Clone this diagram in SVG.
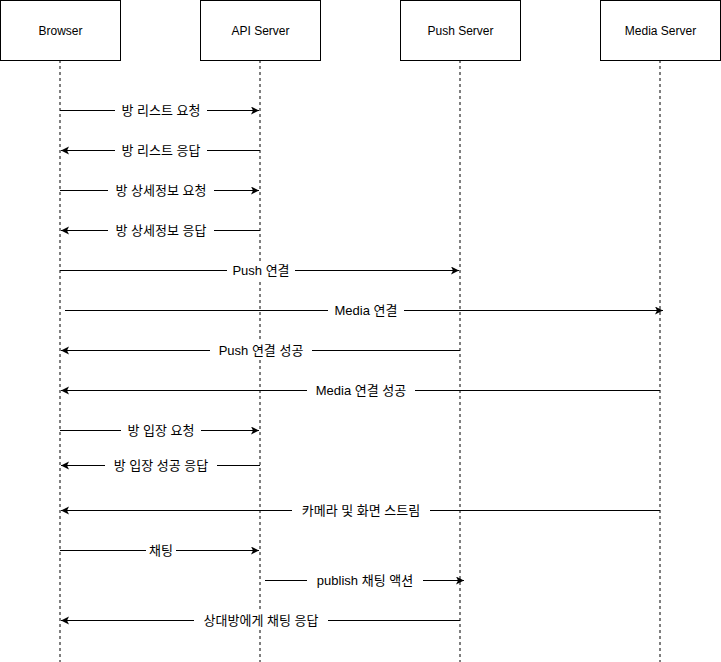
<svg xmlns="http://www.w3.org/2000/svg" width="721" height="662" viewBox="0 0 721 662">
<style>
.box{fill:#fff;stroke:#000;stroke-width:1}
.life{stroke:#000;stroke-width:1;stroke-dasharray:3,3}
.msg{stroke:#000;stroke-width:1;fill:none}
.t{font-family:"Liberation Sans","Noto Sans CJK KR",sans-serif;font-size:12px;text-anchor:middle;fill:#000}
.l{font-family:"Liberation Sans","Noto Sans CJK KR",sans-serif;font-size:13px;text-anchor:middle;fill:#000}
.bg{fill:#fff}
</style>
<defs><marker id="a" markerWidth="10" markerHeight="10" refX="8" refY="4" orient="auto" markerUnits="userSpaceOnUse"><path d="M0,0 L8,4 L0,8 L2,4 Z" fill="#000"/></marker></defs>
<g id="lifelines">
<line class="life" x1="60" y1="60" x2="60" y2="662"/>
<line class="life" x1="260" y1="60" x2="260" y2="662"/>
<line class="life" x1="460" y1="60" x2="460" y2="662"/>
<line class="life" x1="660" y1="60" x2="660" y2="662"/>
</g>
<g id="browser"><rect class="box" x="0.5" y="0.5" width="120" height="60"/><text class="t" x="60.5" y="35">Browser</text></g>
<g id="api"><rect class="box" x="200.5" y="0.5" width="120" height="60"/><text class="t" x="260.5" y="35">API Server</text></g>
<g id="push"><rect class="box" x="400.5" y="0.5" width="120" height="60"/><text class="t" x="460.5" y="35">Push Server</text></g>
<g id="media"><rect class="box" x="600.5" y="0.5" width="120" height="60"/><text class="t" x="660.5" y="35">Media Server</text></g>
<g id="connectors">
<line class="msg" x1="60" y1="110.5" x2="259" y2="110.5" marker-end="url(#a)"/>
<line class="msg" x1="260" y1="150.5" x2="61" y2="150.5" marker-end="url(#a)"/>
<line class="msg" x1="60" y1="190.5" x2="259" y2="190.5" marker-end="url(#a)"/>
<line class="msg" x1="260" y1="230.5" x2="61" y2="230.5" marker-end="url(#a)"/>
<line class="msg" x1="60" y1="270.5" x2="459" y2="270.5" marker-end="url(#a)"/>
<line class="msg" x1="65" y1="310.5" x2="663" y2="310.5" marker-end="url(#a)"/>
<line class="msg" x1="460" y1="350.5" x2="61" y2="350.5" marker-end="url(#a)"/>
<line class="msg" x1="660" y1="390.5" x2="61" y2="390.5" marker-end="url(#a)"/>
<line class="msg" x1="60" y1="430.5" x2="259" y2="430.5" marker-end="url(#a)"/>
<line class="msg" x1="260" y1="465.5" x2="61" y2="465.5" marker-end="url(#a)"/>
<line class="msg" x1="660" y1="510.5" x2="61" y2="510.5" marker-end="url(#a)"/>
<line class="msg" x1="60" y1="550.5" x2="259" y2="550.5" marker-end="url(#a)"/>
<line class="msg" x1="265" y1="580.5" x2="464" y2="580.5" marker-end="url(#a)"/>
<line class="msg" x1="460" y1="620.5" x2="61" y2="620.5" marker-end="url(#a)"/>
</g>
<g id="labels">
<rect class="bg" x="115" y="102" width="92" height="17"/><text class="l" x="161" y="115">방 리스트 요청</text>
<rect class="bg" x="115" y="142" width="92" height="17"/><text class="l" x="161" y="155">방 리스트 응답</text>
<rect class="bg" x="108" y="182" width="106" height="17"/><text class="l" x="161" y="195">방 상세정보 요청</text>
<rect class="bg" x="108" y="222" width="106" height="17"/><text class="l" x="161" y="235">방 상세정보 응답</text>
<rect class="bg" x="227" y="262" width="68" height="17"/><text class="l" x="261" y="275">Push 연결</text>
<rect class="bg" x="328" y="302" width="76" height="17"/><text class="l" x="366" y="315">Media 연결</text>
<rect class="bg" x="210" y="342" width="102" height="17"/><text class="l" x="261" y="355">Push 연결 성공</text>
<rect class="bg" x="307" y="382" width="108" height="17"/><text class="l" x="361" y="395">Media 연결 성공</text>
<rect class="bg" x="121" y="422" width="80" height="17"/><text class="l" x="161" y="435">방 입장 요청</text>
<rect class="bg" x="105" y="457" width="112" height="17"/><text class="l" x="161" y="470">방 입장 성공 응답</text>
<rect class="bg" x="292" y="502" width="138" height="17"/><text class="l" x="361" y="515">카메라 및 화면 스트림</text>
<rect class="bg" x="146" y="542" width="30" height="17"/><text class="l" x="161" y="555">채팅</text>
<rect class="bg" x="307" y="572" width="116" height="17"/><text class="l" x="365" y="585">publish 채팅 액션</text>
<rect class="bg" x="194" y="612" width="134" height="17"/><text class="l" x="261" y="625">상대방에게 채팅 응답</text>
</g>
</svg>
